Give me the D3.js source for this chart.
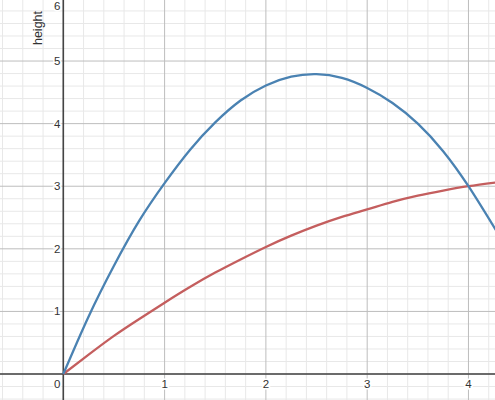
<!DOCTYPE html>
<html>
<head>
<meta charset="utf-8">
<script src="https://cdn.jsdelivr.net/npm/d3@7"></script>
<style>
html,body{margin:0;padding:0;background:#fff;}
svg{display:block;}
text{font-family:"Liberation Sans",Arial,sans-serif;}
</style>
</head>
<body>
<svg id="chart" width="495" height="400"></svg>
<script>
// Data
const blueX = [0, 0.25, 0.5, 0.75, 1.0, 1.25, 1.5, 1.75, 2.0, 2.25, 2.5, 2.75, 3.0, 3.25, 3.5, 3.75, 4.0, 4.27];
const blueY = [0, 0.92, 1.73, 2.45, 3.05, 3.58, 4.02, 4.37, 4.61, 4.75, 4.79, 4.73, 4.57, 4.33, 4.00, 3.56, 3.00, 2.30];
const redX  = [0, 0.25, 0.5, 0.75, 1.0, 1.25, 1.5, 1.75, 2.0, 2.25, 2.5, 2.75, 3.0, 3.25, 3.5, 3.75, 4.0, 4.27];
const redY  = [0, 0.31, 0.61, 0.88, 1.14, 1.39, 1.62, 1.83, 2.03, 2.21, 2.37, 2.51, 2.63, 2.75, 2.85, 2.93, 3.00, 3.06];
const xTicks = [0, 1, 2, 3, 4];
const yTicks = [1, 2, 3, 4, 5, 6];
const yAxisTitle = "height";

const W = 495, H = 400;
const svg = d3.select("#chart");

const x = d3.scaleLinear().domain([-0.625, 4.262]).range([0, W]);
const y = d3.scaleLinear().domain([-0.415, 5.975]).range([H, 0]);

// minor grid
const minorX = d3.range(-3, 22).map(i => i * 0.2).filter(v => Math.abs(v - Math.round(v)) > 1e-6);
const minorY = d3.range(-2, 31).map(i => i * 0.2).filter(v => Math.abs(v - Math.round(v)) > 1e-6);
const g = svg.append("g");
g.selectAll(".mnx").data(minorX).enter().append("line")
  .attr("x1", d => x(d)).attr("x2", d => x(d)).attr("y1", 0).attr("y2", H)
  .attr("stroke", "#e8e8e8").attr("stroke-width", 1);
g.selectAll(".mny").data(minorY).enter().append("line")
  .attr("y1", d => y(d)).attr("y2", d => y(d)).attr("x1", 0).attr("x2", W)
  .attr("stroke", "#e8e8e8").attr("stroke-width", 1);

// major grid
const majorX = d3.range(-1, 5);
const majorY = d3.range(-1, 7);
g.selectAll(".mjx").data(majorX).enter().append("line")
  .attr("x1", d => x(d)).attr("x2", d => x(d)).attr("y1", 0).attr("y2", H)
  .attr("stroke", "#bdbdbd").attr("stroke-width", 1);
g.selectAll(".mjy").data(majorY).enter().append("line")
  .attr("y1", d => y(d)).attr("y2", d => y(d)).attr("x1", 0).attr("x2", W)
  .attr("stroke", "#bdbdbd").attr("stroke-width", 1);

// axes lines
svg.append("line").attr("x1", x(0)).attr("x2", x(0)).attr("y1", 0).attr("y2", H)
  .attr("stroke", "#444").attr("stroke-width", 1.6);
svg.append("line").attr("y1", y(0)).attr("y2", y(0)).attr("x1", 0).attr("x2", W)
  .attr("stroke", "#444").attr("stroke-width", 1.6);

// curves
const line = d3.line().x(d => x(d[0])).y(d => y(d[1])).curve(d3.curveNatural);
svg.append("path").datum(redX.map((v, i) => [v, redY[i]]))
  .attr("d", line).attr("fill", "none").attr("stroke", "#c45e5e").attr("stroke-width", 2.3);
svg.append("path").datum(blueX.map((v, i) => [v, blueY[i]]))
  .attr("d", line).attr("fill", "none").attr("stroke", "#4a82b2").attr("stroke-width", 2.3);

// tick labels
const lbl = svg.append("g").attr("font-size", 11.5).attr("fill", "#333");
lbl.selectAll(".xl").data(xTicks).enter().append("text")
  .attr("x", d => d === 0 ? x(d) - 6 : x(d))
  .attr("y", y(0) + 14)
  .attr("text-anchor", "middle")
  .attr("stroke", "#fff").attr("stroke-width", 3).attr("paint-order", "stroke")
  .text(d => d);
lbl.selectAll(".yl").data(yTicks).enter().append("text")
  .attr("x", x(0) - 3)
  .attr("y", d => Math.max(y(d) + 4, 10))
  .attr("text-anchor", "end")
  .attr("stroke", "#fff").attr("stroke-width", 3).attr("paint-order", "stroke")
  .text(d => d);

// axis title
svg.append("text")
  .attr("transform", `translate(${x(0) - 21},28) rotate(-90)`)
  .attr("text-anchor", "middle")
  .attr("font-size", 12.5).attr("fill", "#333")
  .text(yAxisTitle);
</script>
</body>
</html>
